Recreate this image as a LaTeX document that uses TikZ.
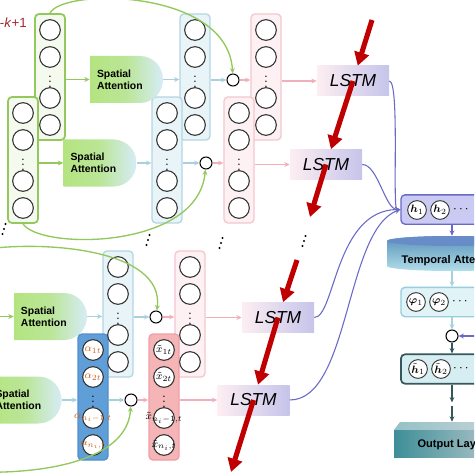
\documentclass[tikz,border=0pt]{standalone}
\usepackage{fontspec}
\setmainfont{Liberation Sans}
\usepackage{amsmath}
\usetikzlibrary{arrows.meta,calc,positioning}

\definecolor{grn}{RGB}{146,200,92}
\definecolor{grnfill}{RGB}{244,250,237}
\definecolor{bluL}{RGB}{180,214,228}
\definecolor{bluLfill}{RGB}{233,244,249}
\definecolor{bluD}{RGB}{82,144,205}
\definecolor{bluDfill}{RGB}{95,158,215}
\definecolor{pnk}{RGB}{244,198,206}
\definecolor{pnkfill}{RGB}{253,241,243}
\definecolor{pnkD}{RGB}{238,160,168}
\definecolor{pnkDfill}{RGB}{245,180,182}
\definecolor{bluA}{RGB}{168,208,222}
\definecolor{pnkA}{RGB}{240,176,186}
\definecolor{saG}{RGB}{180,228,128}
\definecolor{saB}{RGB}{214,236,247}
\colorlet{saM}{saG!80!saB}
\definecolor{lstmL}{RGB}{253,238,241}
\definecolor{lstmR}{RGB}{198,196,235}
\definecolor{pur}{RGB}{105,105,200}
\definecolor{hfill}{RGB}{202,202,242}
\definecolor{phifill}{RGB}{224,243,247}
\definecolor{philine}{RGB}{150,205,220}
\definecolor{htfill}{RGB}{214,237,241}
\definecolor{tealD}{RGB}{52,88,92}
\definecolor{taTop}{RGB}{104,140,200}
\definecolor{taT}{RGB}{88,146,185}
\definecolor{taB}{RGB}{178,222,234}
\definecolor{outL}{RGB}{62,142,152}
\definecolor{outR}{RGB}{190,204,208}
\definecolor{redc}{RGB}{192,0,0}
\definecolor{alphatxt}{RGB}{200,100,40}
\definecolor{lbltxt}{RGB}{168,40,48}

\begin{document}
\begin{tikzpicture}[x=0.75pt,y=-0.75pt,
    >={Stealth[length=4pt,width=3.6pt]},
    colbox/.style={rounded corners=3pt,minimum width=22.5pt,minimum height=94.5pt,line width=1pt},
    incol/.style={colbox,draw=grn,fill=grnfill,line width=1.3pt},
    wcol/.style={colbox,draw=bluL,fill=bluLfill},
    xcol/.style={colbox,draw=pnk,fill=pnkfill},
    alphacol/.style={colbox,draw=bluD,fill=bluDfill},
    xtcol/.style={colbox,draw=pnkD,fill=pnkDfill},
    neuron/.style={circle,draw=black!80,fill=white,line width=0.8pt,minimum size=15.5pt,inner sep=0pt},
    odot/.style={circle,draw=black,fill=white,line width=0.8pt,minimum size=9pt,inner sep=0pt,
      path picture={\fill (path picture bounding box.center) circle (1.2pt);}},
    spatial/.style={text width=44.25pt,inner xsep=5.25pt,inner ysep=0pt,minimum height=35.25pt,
      align=left,font=\bfseries\fontsize{7.8}{9}\selectfont,
      path picture={\shade[left color=saG,right color=saB,middle color=saM]
        (path picture bounding box.north west)
        -- ([xshift=-17.25pt]path picture bounding box.north east)
        arc[start angle=90,end angle=-90,x radius=17.25pt,y radius=17.625pt]
        -- (path picture bounding box.south west) -- cycle;}},
    lstm/.style={minimum width=54pt,minimum height=22.5pt,inner sep=0pt,
      left color=lstmL,right color=lstmR,font=\itshape\fontsize{13}{15}\selectfont},
    rbox/.style={rounded corners=3pt,minimum width=76.5pt,minimum height=22pt,line width=1pt},
    rneuron/.style={circle,draw=black!80,fill=white,line width=0.7pt,minimum size=14pt,
      inner sep=0pt,font=\footnotesize},
    bigtxt/.style={font=\bfseries\fontsize{8.3}{10}\selectfont,text depth=0pt},
    grnarr/.style={->,draw=grn,line width=1pt},
    bluarr/.style={->,draw=bluA,line width=1pt},
    pnkarr/.style={->,draw=pnkA,line width=1pt},
    purarr/.style={->,draw=pur,line width=0.8pt},
    tealarr/.style={->,draw=tealD,line width=1.2pt},
    redarr/.style={draw=redc,line width=3.8pt,-{Triangle[length=10pt,width=11pt]}},
  ]
\path[use as bounding box,fill=white] (0,0) rectangle (474,474);
\clip (0,0) rectangle (474,474);

% columns of step t-k+1 (A) and step t (B)
\node[incol] (inA1) at (50,77) {};
\node[incol] (inA2) at (23,160) {};
\node[wcol] (wA1) at (195,77) {};
\node[wcol] (wA2) at (167,160) {};
\node[xcol] (xA1) at (266,77) {};
\node[xcol] (xA2) at (239,160) {};
\node[wcol] (wB1) at (118,314) {};
\node[alphacol] (wB2) at (93,397) {};
\node[xcol] (xB1) at (190,314) {};
\node[xtcol] (xB2) at (164,397) {};

\foreach \c in {inA1,inA2,wA1,wA2,xA1,xA2,wB1,xB1}
  \foreach \i/\dy in {1/-47,2/-20,3/21,4/48}
    \node[neuron] (\c-\i) at ($(\c)+(0,\dy)$) {};

% attention weights and weighted inputs of step t
\foreach \i/\dy/\t in {1/-47/{1t},2/-20/{2t},3/21/{n_i-1,t},4/48/{n_i,t}}{
  \node[neuron,font=\footnotesize,text=alphatxt] (wB2-\i) at ($(wB2)+(0,\dy)$)
    {\makebox[0pt]{$\alpha_{\t}$}};
  \node[neuron,font=\footnotesize] (xB2-\i) at ($(xB2)+(0,\dy)$)
    {\makebox[0pt]{$\tilde{x}_{\t}$}};
}

\foreach \c in {inA1,inA2,wA1,wA2,xA1,xA2,wB1,wB2,xB1,xB2}
  \node[font=\small,inner sep=0pt] (\c-dots) at ($(\c)+(0,1)$) {$\vdots$};

\node[font=\fontsize{10}{12}\selectfont,text=lbltxt,anchor=east,inner sep=0pt] (step) at (27,23)
  {\textit{t}-\textit{k}+1};

\node[spatial] (saA1) at (126.5,79.5) {Spatial\\Attention};
\node[spatial] (saA2) at (100,163) {Spatial\\Attention};
\node[spatial] (saB1) at (50.5,316.5) {Spatial\\Attention};
\node[spatial] (saB2) at (25,400) {Spatial\\Attention};

\node[odot] (oA1) at (233,80) {};
\node[odot] (oA2) at (206,163) {};
\node[odot] (oB1) at (156,317) {};
\node[odot] (oB2) at (131,400) {};

\node[lstm] (lstmA1) at (353,81) {LSTM};
\node[lstm] (lstmA2) at (326,164.5) {LSTM};
\node[lstm] (lstmB1) at (278,317.5) {LSTM};
\node[lstm] (lstmB2) at (253.5,400) {LSTM};

% forward arrows
\coordinate (inB1) at (-12,316.5);
\draw[grnarr] (inA1.east |- saA1) -- (saA1);
\draw[grnarr] (inA2.east |- saA2) -- (saA2);
\draw[grnarr] (inB1) -- (saB1);
\foreach \g in {A1,A2,B1,B2}{
  \draw[bluarr] (sa\g) -- (w\g.west |- sa\g);
  \draw[bluarr] (w\g.east |- o\g) -- (o\g);
  \draw[pnkarr] (o\g) -- (x\g.west |- o\g);
  \draw[pnkarr] (x\g.east |- lstm\g) -- (lstm\g);
}

% inputs to the products
\coordinate (inB1top) at (-20,250);
\coordinate (inB2bot) at (-30,472);
\draw[grnarr] (inA1.north) .. controls (62,-12) and (228,-12) .. (oA1);
\draw[grnarr] (inA2.south) .. controls (40,250) and (198,250) .. (oA2);
\draw[grnarr] (inB1top) .. controls (40,240) and (165,248) .. (oB1);
\draw[grnarr] (inB2bot) .. controls (60,475) and (128,455) .. (oB2);

% dots between the steps
\foreach \px/\py in {4/229,148/240,221/243,304/241}
  \foreach \d/\e in {1.5/-5,0/0,-1.5/5}
    \fill (\px+\d,\py+\e) circle (0.8pt);

% hidden states to the right part
\node[rbox,draw=pur,fill=hfill] (hbox) at (452,209.5) {};
\node[rneuron] (h1) at (417,210) {$\boldsymbol{h}_1$};
\node[rneuron] (h2) at (440,210) {$\boldsymbol{h}_2$};
\node (hdots) at (462,210) {$\cdots$};

\draw[purarr] (lstmA1.east) .. controls (400,81) and (392,209.5) .. (hbox.west);
\draw[purarr] (lstmA2.east) .. controls (378,164.5) and (385,209.5) .. (hbox.west);
\draw[purarr] (lstmB1.east) .. controls (335,317.5) and (335,210) .. (hbox.west);
\draw[purarr] (lstmB2.east) .. controls (350,400) and (345,230) .. (hbox.west);

% red arrows along the LSTM chain
\coordinate (rtop) at (372,20);
\coordinate (rgap1) at (310,217);
\coordinate (rgap2) at (297,260);
\coordinate (rend) at (231,472);
\draw[redarr] (rtop) -- (lstmA1);
\draw[redarr] (lstmA1.center) -- (lstmA2);
\draw[redarr] (lstmA2.center) -- (rgap1);
\draw[redarr] (rgap2) -- (lstmB1);
\draw[redarr] (lstmB1.center) -- (lstmB2);
\draw[redarr] (lstmB2.center) -- (rend);

% temporal attention
\shade[top color=taT,bottom color=taB] (387,241) -- (387,266)
  arc[start angle=180,end angle=360,x radius=48.75pt,y radius=3.75pt] -- (517,241)
  arc[start angle=0,end angle=180,x radius=48.75pt,y radius=3.75pt] -- cycle;
\fill[taTop] (452,241) ellipse [x radius=48.75pt,y radius=3.75pt];
\node[bigtxt,minimum width=97.5pt,minimum height=26.25pt,text height=15pt] (tatt) at (452,253.5)
  {Temporal Attention};

\node[rbox,draw=philine,fill=phifill] (phibox) at (452,302) {};
\node[rneuron] (phi1) at (416,302) {$\boldsymbol{\varphi}_1$};
\node[rneuron] (phi2) at (439,302) {$\boldsymbol{\varphi}_2$};
\node (phidots) at (461,302) {$\cdots$};

\node[odot] (oC) at (452,336) {};

\node[rbox,draw=tealD,fill=htfill,line width=1.3pt] (htbox) at (452,369) {};
\node[rneuron] (ht1) at (418,369) {$\tilde{\boldsymbol{h}}_1$};
\node[rneuron] (ht2) at (441,369) {$\tilde{\boldsymbol{h}}_2$};
\node (htdots) at (462,369) {$\cdots$};

\node[inner sep=1pt,font=\large] (sig) at (452,404) {$\mathit{\Sigma}$};

% output layer
\shade[left color=outL!55!white,right color=outR!80!white] (394,430) -- (400,422) -- (516,422) -- (510,430) -- cycle;
\shade[left color=outL,right color=outR] (394,430) rectangle (510,457);
\node[bigtxt,minimum width=87pt,minimum height=26.25pt,text height=11.25pt] (outl) at (452,439.5)
  {Output Layer};

\draw[purarr] (hbox) -- (tatt);
\draw[bluarr] (tatt) -- (phibox);
\draw[bluarr] (phibox) -- (oC);
\draw[purarr] (hbox.east) -- ++(8,0) |- (oC);
\draw[tealarr] (oC) -- (htbox);
\draw[tealarr] (htbox) -- (sig);
\draw[tealarr] (sig) -- (outl);
\end{tikzpicture}
\end{document}
